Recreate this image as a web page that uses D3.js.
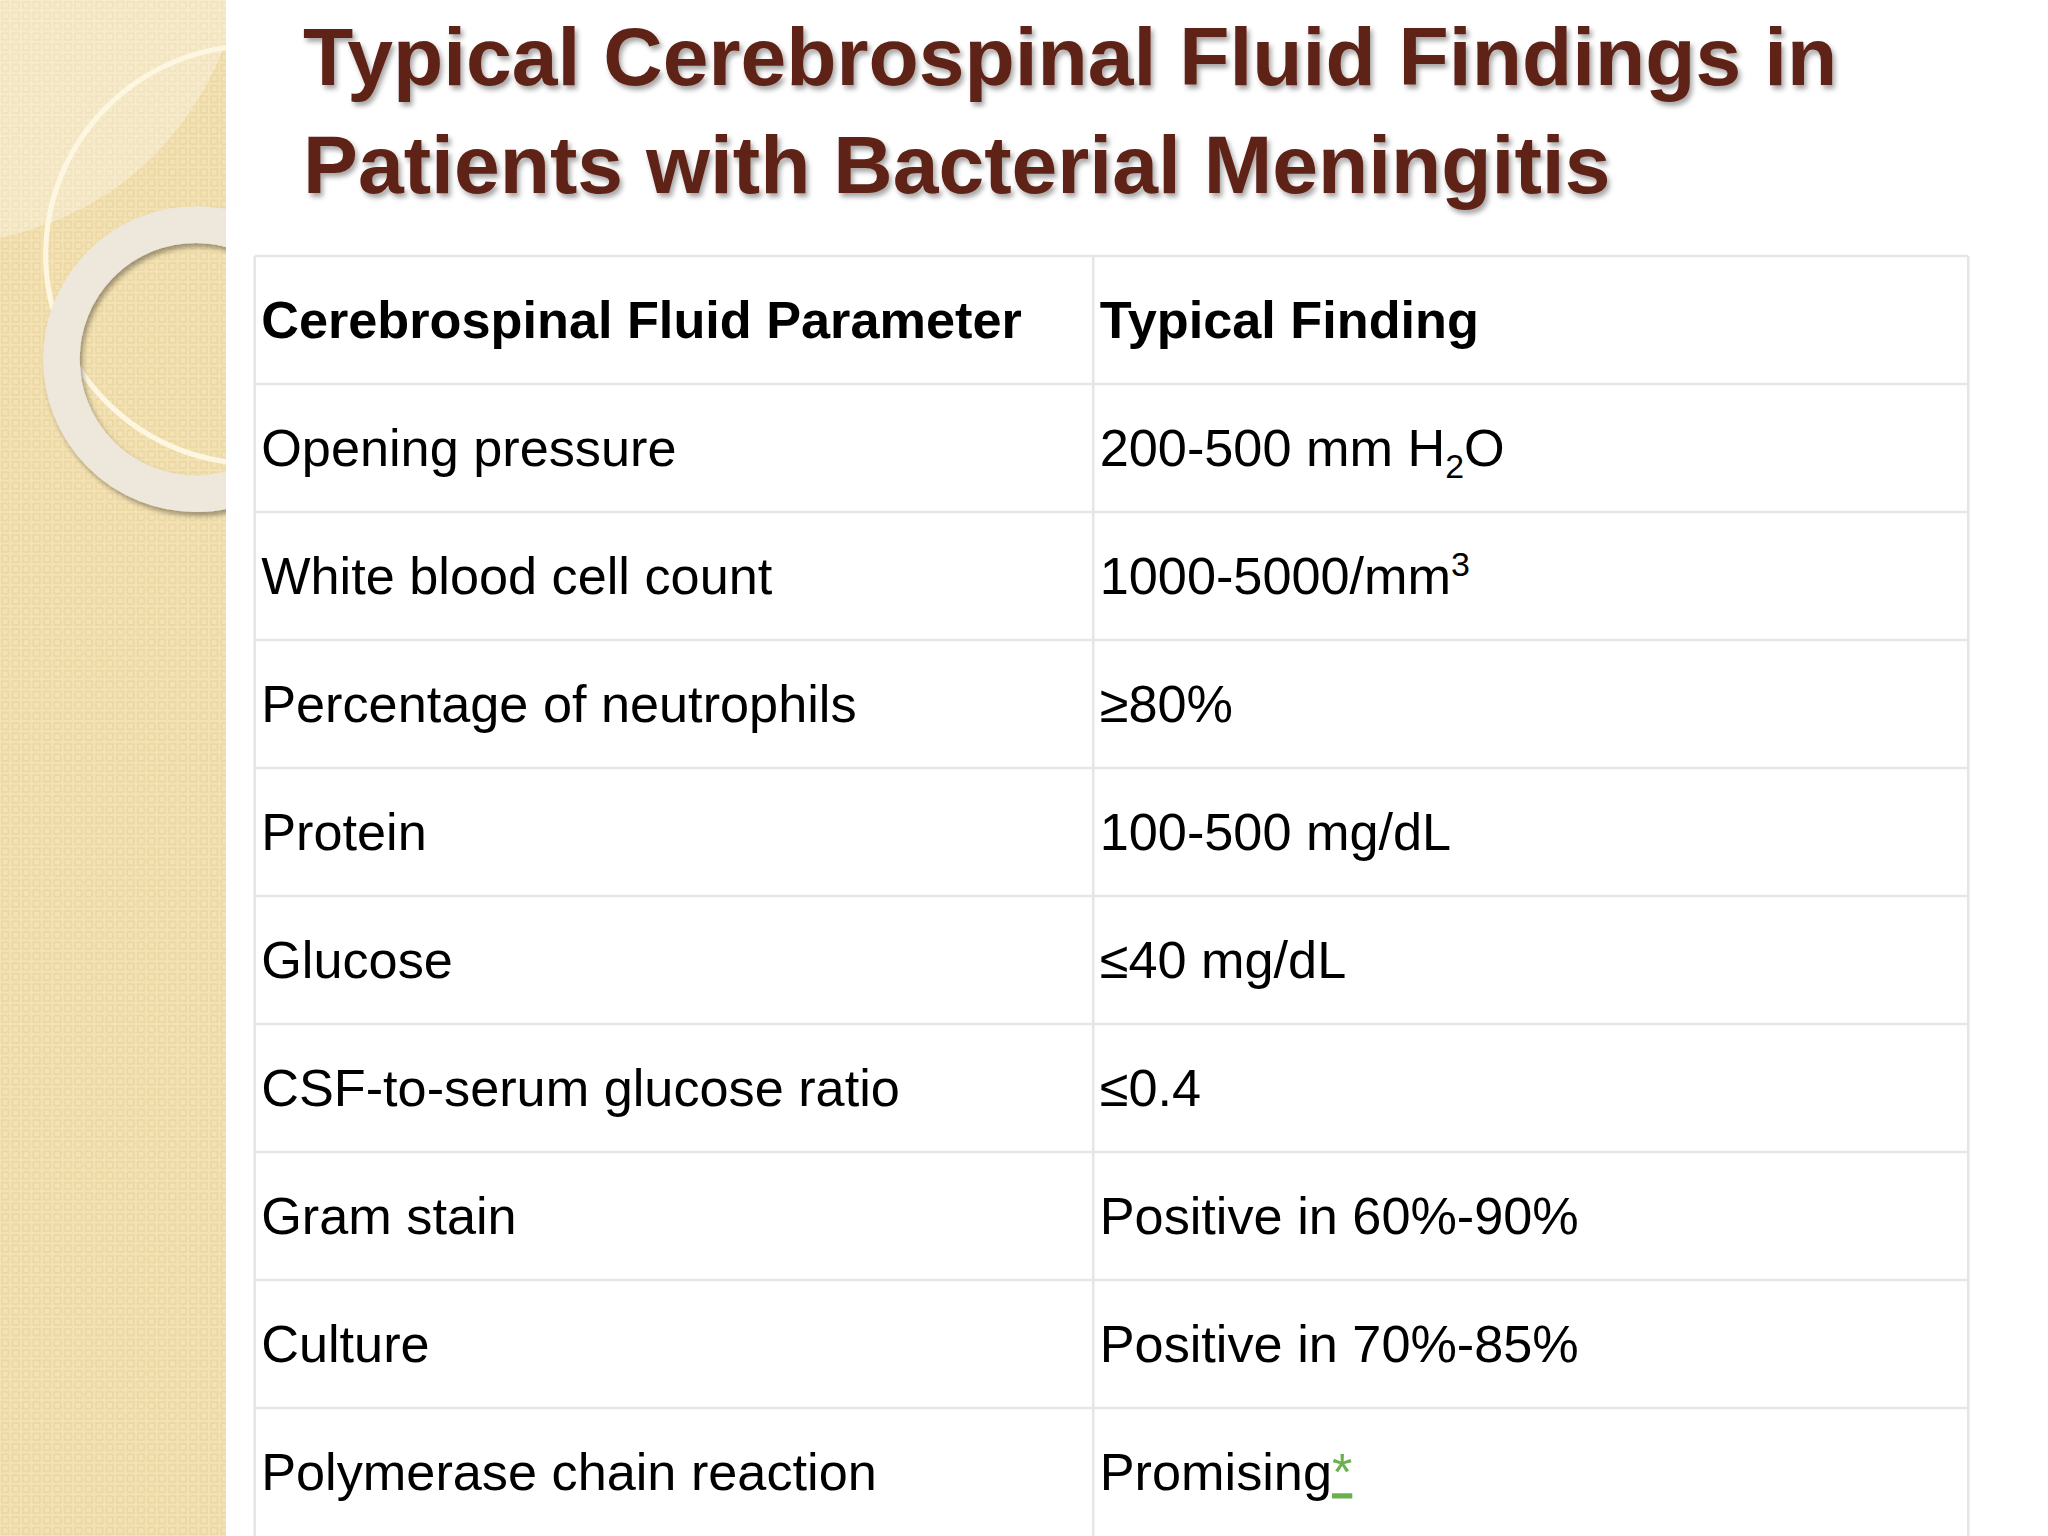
<!DOCTYPE html>
<html><head><meta charset="utf-8">
<script src="https://cdn.jsdelivr.net/npm/d3@7"></script>
<style>body{margin:0;background:#fff}</style>
</head><body>
<svg width="2048" height="1536" viewBox="0 0 1568 1176"></svg>
<script>
const titleLines = ["Typical Cerebrospinal Fluid Findings in", "Patients with Bacterial Meningitis"];
const header = ["Cerebrospinal Fluid Parameter", "Typical Finding"];
const parameters = ["Opening pressure", "White blood cell count", "Percentage of neutrophils", "Protein",
  "Glucose", "CSF-to-serum glucose ratio", "Gram stain", "Culture", "Polymerase chain reaction"];
// findings as [text, sub/sup type, small text, suffix]
const findings = [["200-500 mm H", "sub", "2", "O"], ["1000-5000/mm", "sup", "3", ""], ["≥80%"], ["100-500 mg/dL"],
  ["≤40 mg/dL"], ["≤0.4"], ["Positive in 60%-90%"], ["Positive in 70%-85%"], ["Promising", "star", "*", ""]];

const svg = d3.select("svg");
const defs = svg.append("defs");
const pat = defs.append("pattern").attr("id", "dots").attr("width", 8).attr("height", 8)
  .attr("patternUnits", "userSpaceOnUse");
pat.append("rect").attr("width", 8).attr("height", 8).attr("fill", "#f3e2b3");
pat.append("rect").attr("x", 1.5).attr("y", 1.5).attr("width", 5).attr("height", 5)
  .attr("fill", "none").attr("stroke", "#ead4a0").attr("stroke-width", 1);
const sh = defs.append("filter").attr("id", "shadow");
sh.append("feDropShadow").attr("dx", 2).attr("dy", 3).attr("stdDeviation", 2).attr("flood-color", "#000").attr("flood-opacity", 0.35);
const clip = defs.append("clipPath").attr("id", "panel");
clip.append("rect").attr("width", 173).attr("height", 1176);

// left decorative panel
const panel = svg.append("g").attr("clip-path", "url(#panel)");
panel.append("rect").attr("width", 173).attr("height", 1176).attr("fill", "url(#dots)");
panel.append("path").attr("d", "M0,0 H183 C160,90 100,160 0,182 Z").attr("fill", "#fff").attr("opacity", 0.3);
panel.append("circle").attr("cx", 195).attr("cy", 195).attr("r", 160).attr("fill", "none")
  .attr("stroke", "#fdf6e0").attr("stroke-width", 4);
panel.append("circle").attr("cx", 150).attr("cy", 275).attr("r", 103).attr("fill", "none")
  .attr("stroke", "#eee8dc").attr("stroke-width", 28).attr("filter", "url(#shadow)");

// title
svg.append("g").selectAll("text").data(titleLines).join("text")
  .attr("x", 232).attr("y", (d, i) => 65 + i * 83)
  .attr("font-family", "Liberation Sans, Arial, sans-serif").attr("font-weight", "bold")
  .attr("font-size", 63).attr("fill", "#5e2418").attr("filter", "url(#shadow)").text(d => d);

// table
const x0 = 195, x1 = 837, x2 = 1507, tableTop = 196;
const y = d3.scaleBand().domain(d3.range(parameters.length + 1)).range([tableTop, 1176]);
const tbl = svg.append("g").attr("font-family", "Liberation Sans, Arial, sans-serif").attr("font-size", 40).attr("fill", "#000");
tbl.selectAll("line.h").data(d3.range(parameters.length + 1)).join("line")
  .attr("x1", x0).attr("x2", x2).attr("y1", d => y(d)).attr("y2", d => y(d)).attr("stroke", "#e6e6e6").attr("stroke-width", 2);
[x0, x1, x2].forEach(x => tbl.append("line").attr("x1", x).attr("x2", x).attr("y1", tableTop).attr("y2", 1176)
  .attr("stroke", "#e6e6e6").attr("stroke-width", 2));

const baseline = i => y(i) + y.bandwidth() / 2 + 14;
tbl.selectAll("text.hd").data(header).join("text")
  .attr("x", (d, i) => i ? x1 + 5 : x0 + 5).attr("y", baseline(0)).attr("font-weight", "bold").text(d => d);
tbl.selectAll("text.p").data(parameters).join("text")
  .attr("x", x0 + 5).attr("y", (d, i) => baseline(i + 1)).text(d => d);
findings.forEach((f, i) => {
  const t = tbl.append("text").attr("x", x1 + 5).attr("y", baseline(i + 1));
  t.append("tspan").text(f[0]);
  if (f[1] === "sub") { t.append("tspan").attr("font-size", 26).attr("dy", 9).text(f[2]); t.append("tspan").attr("dy", -9).text(f[3]); }
  if (f[1] === "sup") t.append("tspan").attr("font-size", 26).attr("dy", -14).text(f[2]);
  if (f[1] === "star") t.append("tspan").attr("fill", "#6ab04c").attr("text-decoration", "underline").text(f[2]);
});
</script>
</body></html>
